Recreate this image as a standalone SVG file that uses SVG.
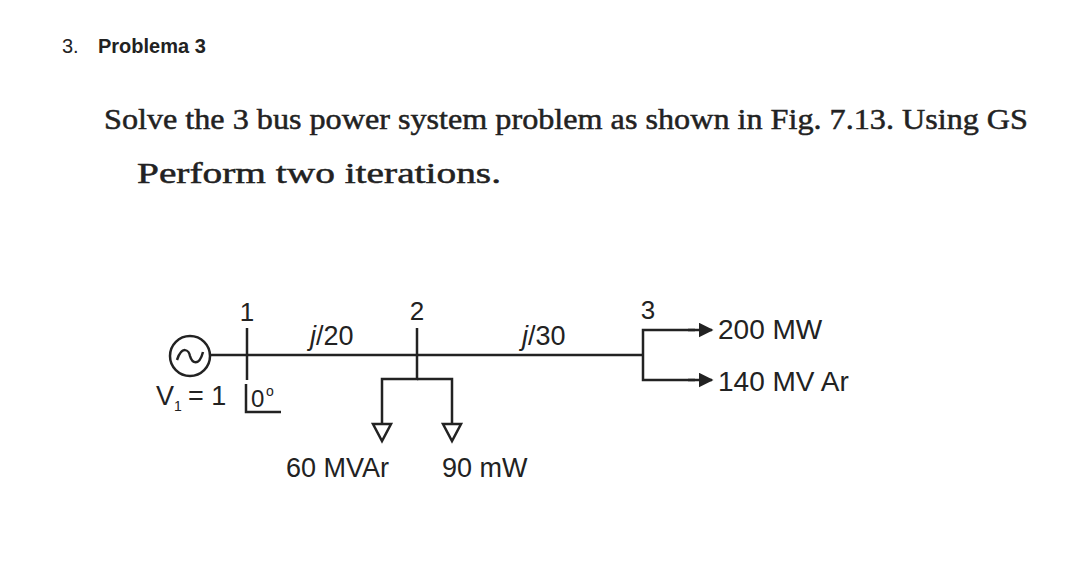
<svg xmlns="http://www.w3.org/2000/svg" width="1078" height="583" viewBox="0 0 1078 583">
<style>
.s{font-family:"Liberation Sans",Arial,sans-serif;fill:#222}
.r{font-family:"Liberation Serif","Times New Roman",serif;fill:#222;font-size:30px;stroke:#222;stroke-width:0.5}
.ln{stroke:#222;stroke-width:2.5;fill:none}
</style>
<defs><marker id="ar" viewBox="0 0 10 10" refX="9" refY="5" markerWidth="6" markerHeight="6" markerUnits="strokeWidth" orient="auto"><path d="M0,0L10,5L0,10z" fill="#222"/></marker></defs>
<rect width="1078" height="583" fill="#fff"/>
<text class="s" x="62" y="53" font-size="20">3.</text>
<text class="s" x="98" y="53" font-size="20" font-weight="bold">Problema 3</text>
<text class="r" x="104" y="129" textLength="924" lengthAdjust="spacingAndGlyphs">Solve the 3 bus power system problem as shown in Fig. 7.13. Using GS</text>
<text class="r" x="137" y="183" textLength="364" lengthAdjust="spacingAndGlyphs">Perform two iterations.</text>
<g id="connectors" class="ln">
<line x1="211" y1="355" x2="643" y2="355"/>
<polyline points="417,355 417,379 382,379 382,423"/>
<polyline points="417,379 452,379 452,423"/>
<polyline points="695,330 643,330 643,380 695,380"/>
<line x1="688" y1="330" x2="712" y2="330" marker-end="url(#ar)"/>
<line x1="688" y1="380" x2="712" y2="380" marker-end="url(#ar)"/>
</g>
<g id="gen"><circle cx="190" cy="356" r="20" class="ln"/><path d="M177,360 C182,345 189,350 190,356 C192,363 199,367 203,352" class="ln" stroke-width="2"/>
<text class="s" x="156" y="405" font-size="27">V</text><text class="s" x="174" y="411" font-size="14">1</text>
<text class="s" x="188" y="405" font-size="27">= 1</text>
<polyline points="246,384 246,412 281,412" class="ln" stroke-width="2"/>
<text class="s" x="251" y="407" font-size="24">0</text><text class="s" x="266" y="396" font-size="14">o</text></g>
<g id="bus1"><line x1="247" y1="328" x2="247" y2="380" class="ln"/><text class="s" x="247" y="321" font-size="26" text-anchor="middle">1</text>
<text class="s" x="310" y="345" font-size="27"><tspan font-style="italic">j</tspan>/20</text></g>
<g id="bus2"><line x1="417" y1="328" x2="417" y2="355" class="ln"/><text class="s" x="417" y="320" font-size="26" text-anchor="middle">2</text>
<polygon points="373,424 391,424 382,441" class="ln" stroke-width="2"/>
<polygon points="443,424 461,424 452,441" class="ln" stroke-width="2"/>
<text class="s" x="286" y="477" font-size="27">60 MVAr</text>
<text class="s" x="442" y="477" font-size="27">90 mW</text></g>
<g id="bus3"><text class="s" x="522" y="345" font-size="27"><tspan font-style="italic">j</tspan>/30</text>
<text class="s" x="648" y="319" font-size="26" text-anchor="middle">3</text>
<text class="s" x="718" y="339" font-size="28">200 MW</text>
<text class="s" x="718" y="391" font-size="28">140 MV Ar</text></g>
</svg>
